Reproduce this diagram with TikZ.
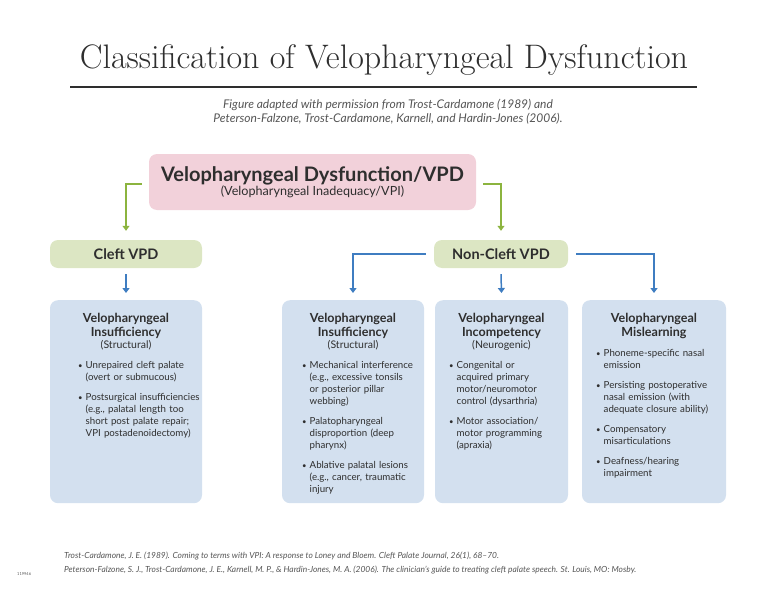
\documentclass[tikz,border=0pt]{standalone}
\usepackage{fontspec}
\setmainfont{Lato}
\newfontfamily\slabfont{Latin Modern Roman}
\usetikzlibrary{arrows.meta,positioning}
\tikzset{>={Triangle[width=7pt,length=5pt]}}
\definecolor{pinkbox}{HTML}{F2D1DA}
\definecolor{greenbox}{HTML}{DCE6C3}
\definecolor{bluebox}{HTML}{D3E0EF}
\definecolor{greenline}{HTML}{8CB43F}
\definecolor{blueline}{HTML}{3F7DC1}
\definecolor{darktext}{HTML}{2E2E2E}
\definecolor{greytext}{HTML}{555555}
\newcommand{\bul}[1]{\noindent\makebox[7.5pt][l]{\scalebox{0.8}{\textbullet}}\begin{tabular}[t]{@{}l@{}}#1\end{tabular}\par}
\newcommand{\GREY}[1]{\textcolor{greytext}{#1}}

\begin{document}
\begin{tikzpicture}[x=1pt,y=-1pt,
  every node/.style={inner sep=0pt, text=darktext},
  roundbox/.style={rounded corners=8pt, draw=none},
  topbox/.style={roundbox, fill=pinkbox, minimum width=327pt, minimum height=56pt, align=center},
  midbox/.style={roundbox, fill=greenbox, minimum height=28pt,
    font=\fontsize{14.5}{16}\selectfont\bfseries},
  lowbox/.style={roundbox, fill=bluebox, minimum height=203pt, anchor=north},
  boxhead/.style={align=center, anchor=north, font=\fontsize{12.5}{14}\selectfont\bfseries},
  bullets/.style={anchor=north west, align=left, text width=140pt,
    font=\fontsize{9.7}{12}\selectfont\setlength{\parskip}{8pt}\setlength{\lineskip}{0pt}},
  greenarrow/.style={->, line width=1.5pt, draw=greenline},
  bluearrow/.style={->, line width=1.5pt, draw=blueline}]
  \useasboundingbox (0,0) rectangle (768,594);

  \newcommand\TOP{300};  % top of the lower boxes
  \newcommand\HD{13};    % head offset

  %% title and sources
  \node (title) at (384,60) {\slabfont\fontsize{34}{34}\selectfont Classification of Velopharyngeal Dysfunction};
  \draw[line width=1.1pt, draw=darktext] (70,87) -- (697,87);
  \node[align=center, font=\fontsize{12}{14}\selectfont\itshape] (adapted) at (388,112)
  {\GREY{Figure adapted with permission from Trost-Cardamone (1989) and}\\
   \GREY{Peterson-Falzone, Trost-Cardamone, Karnell, and Hardin-Jones (2006).}};

  %% top level
  \node[topbox] (vpd) at (312.5,182)
  {{\fontsize{20}{22}\selectfont\bfseries Velopharyngeal Dysfunction/VPD}\\[0pt]
   {\fontsize{12.6}{14}\selectfont (Velopharyngeal Inadequacy/VPI)}};

  \node[midbox, minimum width=152pt] (cleft) at (126,254) {Cleft VPD};
  \node[midbox, minimum width=134pt] (noncleft) at (501,254) {Non-Cleft VPD};

  \draw[greenarrow] ([xshift=-7pt,yshift=-2pt]vpd.west) -| ([yshift=9pt]cleft.north);
  \draw[greenarrow] ([xshift=7pt,yshift=-2pt]vpd.east) -| ([yshift=9pt]noncleft.north);

  %% lower boxes
  \node[lowbox, minimum width=152pt] (cleftins) at (126,\TOP) {};
  \node[lowbox, minimum width=142pt] (ins) at (353,\TOP) {};
  \node[lowbox, minimum width=133pt] (incomp) at (501.5,\TOP) {};
  \node[lowbox, minimum width=144pt] (mislearn) at (654,\TOP) {};

  \draw[bluearrow] ([yshift=-6pt]cleft.south) -- ([yshift=7pt]cleftins.north);
  \draw[bluearrow] ([xshift=-8pt]noncleft.west) -| ([yshift=7pt]ins.north);
  \draw[bluearrow] ([yshift=-6pt]noncleft.south) -- ([yshift=7pt]incomp.north);
  \draw[bluearrow] ([xshift=8pt]noncleft.east) -| ([yshift=7pt]mislearn.north);

  %% box texts
  \node[boxhead, below=\HD pt of cleftins.north] (h1)
  {Velopharyngeal\\Insufficiency\\[-2pt]{\fontsize{10.5}{12}\selectfont\mdseries (Structural)}};
  \node[bullets] (b1) at (78,360)
  {\bul{Unrepaired cleft palate\\(overt or submucous)}
   \bul{Postsurgical insufficiencies\\(e.g., palatal length too\\short post palate repair;\\VPI postadenoidectomy)}};

  \node[boxhead, below=\HD pt of ins.north] (h2)
  {Velopharyngeal\\Insufficiency\\[-2pt]{\fontsize{10.5}{12}\selectfont\mdseries (Structural)}};
  \node[bullets] (b2) at (302,360)
  {\bul{Mechanical interference\\(e.g., excessive tonsils\\or posterior pillar\\webbing)}
   \bul{Palatopharyngeal\\disproportion (deep\\pharynx)}
   \bul{Ablative palatal lesions\\(e.g., cancer, traumatic\\injury}};

  \node[boxhead, below=\HD pt of incomp.north] (h3)
  {Velopharyngeal\\Incompetency\\[-2pt]{\fontsize{10.5}{12}\selectfont\mdseries (Neurogenic)}};
  \node[bullets] (b3) at (449,360)
  {\bul{Congenital or\\acquired primary\\motor/neuromotor\\control (dysarthria)}
   \bul{Motor association/\\motor programming\\(apraxia)}};

  \node[boxhead, below=\HD pt of mislearn.north] (h4)
  {Velopharyngeal\\Mislearning};
  \node[bullets] (b4) at (596,348)
  {\bul{Phoneme-specific nasal\\emission}
   \bul{Persisting postoperative\\nasal emission (with\\adequate closure ability)}
   \bul{Compensatory\\misarticulations}
   \bul{Deafness/hearing\\impairment}};

  %% references
  \node[anchor=west, font=\fontsize{8.4}{9}\selectfont\itshape] (ref1) at (64,556)
  {\GREY{Trost-Cardamone, J. E. (1989). Coming to terms with VPI: A response to Loney and Bloem. Cleft Palate Journal, 26(1), 68--70.}};
  \node[anchor=west, font=\fontsize{8.4}{9}\selectfont\itshape] (ref2) at (64,570)
  {\GREY{Peterson-Falzone, S. J., Trost-Cardamone, J. E., Karnell, M. P., \& Hardin-Jones, M. A. (2006). The clinician's guide to treating cleft palate speech. St. Louis, MO: Mosby.}};
  \node[anchor=west, font=\fontsize{4}{5}\selectfont] (code) at (17,574) {\GREY{119946}};
\end{tikzpicture}
\end{document}
